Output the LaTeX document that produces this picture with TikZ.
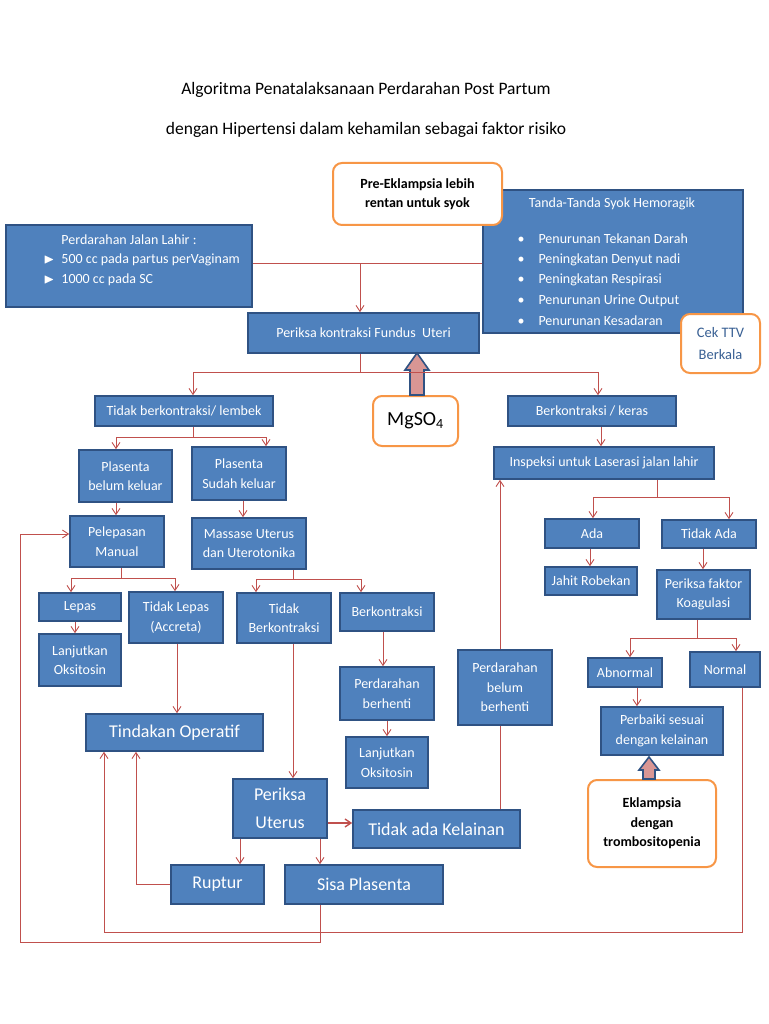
\documentclass[tikz,border=0pt]{standalone}
\usepackage{amssymb}
\usepackage{fontspec}
\setmainfont{Carlito}
\usetikzlibrary{arrows.meta,calc}
\definecolor{bfill}{HTML}{4F81BD}
\definecolor{bdraw}{HTML}{2F5283}
\definecolor{rl}{HTML}{C0504D}
\definecolor{org}{HTML}{F79646}
\definecolor{thk}{HTML}{D99694}
\newcommand\mybox[7][]{\node[box,#1,minimum width={(#5-#3)*1pt},minimum height={(#6-#4)*1pt}] (#2) at ({(#3+#5)/2},{(#4+#6)/2}) {#7};}
\begin{document}
\begin{tikzpicture}[x=1pt,y=-1pt,
 sm/.style={font=\fontsize{14}{19.5}\selectfont},
 lg/.style={font=\fontsize{18}{28}\selectfont},
 box/.style={draw=bdraw,line width=1.6pt,fill=bfill,text=white,align=center,inner sep=1pt,sm},
 obox/.style={draw=org,line width=2pt,fill=white,text=black,rounded corners=9pt,align=center,sm},
 ln/.style={draw=rl,line width=0.9pt},
 ar/.style={ln,-{Straight Barb[length=6pt,width=8pt]}},
 thick arrow/.style={fill=thk,draw=bdraw,line width=1.6pt}]
\useasboundingbox (0,0) rectangle (768,1024);
\node[font=\fontsize{17.5}{20}\selectfont] (t1) at (366,90) {Algoritma Penatalaksanaan Perdarahan Post Partum};
\node[font=\fontsize{17.5}{20}\selectfont] (t2) at (366,130) {dengan Hipertensi dalam kehamilan sebagai faktor risiko};
% boxes
\mybox{pjl}{6}{225}{252}{307}{}
\node[text=white,sm] (pjlt) at (129,240) {Perdarahan Jalan Lahir :};
\node[text=white,sm,anchor=west] (pjl1) at (40,260) {$\blacktriangleright$\hspace{7pt}500 cc pada partus perVaginam};
\node[text=white,sm,anchor=west] (pjl2) at (40,280) {$\blacktriangleright$\hspace{7pt}1000 cc pada SC};
\mybox{tanda}{483}{190}{743}{333}{}
\node[text=white,sm] (tandat) at (612,204) {Tanda-Tanda Syok Hemoragik};
\foreach \i/\t in {0/Penurunan Tekanan Darah,1/Peningkatan Denyut nadi,2/Peningkatan Respirasi,3/Penurunan Urine Output,4/Penurunan Kesadaran}{
 \node[text=white,sm,anchor=west] (tb\i) at (514,{239+20.5*\i}) {\textbullet\hspace{14pt}\t};}
\node[obox,minimum width=169pt,minimum height=62pt] (pre) at (417.5,194) {\textbf{Pre-Eklampsia lebih}\\\textbf{rentan untuk syok}};
\node[obox,minimum width=79pt,minimum height=59pt,text=bdraw!70!bfill,font=\fontsize{14.5}{22}\selectfont] (cek) at (720.5,343.5) {Cek TTV\\Berkala};
\mybox{pk}{248}{313}{479}{353}{Periksa kontraksi Fundus\ \ Uteri}
\mybox{tbk}{95}{396}{273}{426}{Tidak berkontraksi/ lembek}
\mybox{bk}{508}{396}{676}{426}{Berkontraksi / keras}
\mybox{pbk}{79}{450}{172}{502}{Plasenta\\belum keluar}
\mybox{psk}{192}{447}{286}{500}{Plasenta\\Sudah keluar}
\mybox{ins}{494}{447}{714}{479}{Inspeksi untuk Laserasi jalan lahir}
\mybox{pm}{70}{516}{164}{567}{Pelepasan\\Manual}
\mybox{mu}{192}{518}{306}{569}{Massase Uterus\\dan Uterotonika}
\mybox{ada}{545}{519}{639}{548}{Ada}
\mybox{tada}{662}{520}{756}{548}{Tidak Ada}
\mybox{jr}{545}{567}{637}{595}{Jahit Robekan}
\mybox{pfk}{657}{570}{750}{619}{Periksa faktor\\Koagulasi}
\mybox{lep}{39}{593}{121}{621}{Lepas}
\mybox{tl}{129}{592}{223}{643}{Tidak Lepas\\(Accreta)}
\mybox{tbk2}{237}{593}{331}{643}{Tidak\\Berkontraksi}
\mybox{bk2}{340}{593}{434}{631}{Berkontraksi}
\mybox{lo1}{39}{634}{121}{686}{Lanjutkan\\Oksitosin}
\mybox{pbb}{458}{650}{552}{725}{Perdarahan\\belum\\berhenti}
\mybox{abn}{588}{658}{662}{687}{Abnormal}
\mybox{nor}{690}{652}{760}{687}{Normal}
\mybox{pb}{340}{667}{434}{720}{Perdarahan\\berhenti}
\mybox[lg]{to}{86}{714}{263}{751}{Tindakan Operatif}
\mybox{pbs}{601}{707}{723}{755}{Perbaiki sesuai\\dengan kelainan}
\mybox{lo2}{346}{737}{428}{788}{Lanjutkan\\Oksitosin}
\node[obox,minimum width=128pt,minimum height=87pt] (ekl) at (652,823.5) {\textbf{Eklampsia}\\\textbf{dengan}\\\textbf{trombositopenia}};
\mybox[lg]{pu}{233}{779}{327}{838}{Periksa\\Uterus}
\mybox[lg]{tak}{353}{810}{520}{848}{Tidak ada Kelainan}
\mybox[lg]{rup}{171}{865}{264}{904}{Ruptur}
\mybox[lg]{sp}{285}{865}{443}{904}{Sisa Plasenta}
\node[obox,minimum width=85pt,minimum height=50pt,font=\fontsize{20}{22}\selectfont] (mg) at (415.5,421) {MgSO\textsubscript{4}};
% thick arrows
\draw[thick arrow] (mg.north -| 410,0) -- (410,370) -- (405,370) -- (417,353) -- (429,370) -- (424,370) -- (mg.north -| 424,0) -- cycle;
\draw[thick arrow] (ekl.north -| 643,0) -- (643,770) -- (639,770) -- (649,757) -- (659,770) -- (655,770) -- (ekl.north -| 655,0) -- cycle;
% connectors
\draw[ln] (pjl.east |- 0,263) -- (tanda.west |- 0,263);
\draw[ar] (360,263) -- (pk.north -| 360,0);
\draw[ln] (pk.south -| 360,0) -- (360,372);
\draw[ln] (193,372) -- (598,372);
\draw[ar] (193,372) -- (tbk.north -| 193,0);
\draw[ar] (598,372) -- (bk.north -| 598,0);
\draw[ar] (bk.south -| 601,0) -- (ins.north -| 601,0);
\draw[ln] (tbk.south -| 193,0) -- (193,437);
\draw[ln] (116,437) -- (266,437);
\draw[ar] (116,437) -- (pbk.north -| 116,0);
\draw[ar] (266,437) -- (psk.north -| 266,0);
\draw[ar] (pbk.south -| 116,0) -- (pm.north -| 116,0);
\draw[ar] (psk.south -| 243,0) -- (mu.north -| 243,0);
\draw[ln] (ins.south -| 657,0) -- (657,497);
\draw[ln] (593,497) -- (729,497);
\draw[ar] (593,497) -- (ada.north -| 593,0);
\draw[ar] (729,497) -- (tada.north -| 729,0);
\draw[ar] (ada.south -| 590,0) -- (jr.north -| 590,0);
\draw[ar] (tada.south -| 703,0) -- (pfk.north -| 703,0);
\draw[ln] (pm.south -| 121,0) -- (121,578);
\draw[ln] (71,578) -- (175,578);
\draw[ar] (71,578) -- (lep.north -| 71,0);
\draw[ar] (175,578) -- (tl.north -| 175,0);
\draw[ln] (mu.south -| 293,0) -- (293,579);
\draw[ln] (256,579) -- (361,579);
\draw[ar] (256,579) -- (tbk2.north -| 256,0);
\draw[ar] (361,579) -- (bk2.north -| 361,0);
\draw[ar] (lep.south -| 75,0) -- (lo1.north -| 75,0);
\draw[ar] (tl.south -| 177,0) -- (to.north -| 177,0);
\draw[ar] (tbk2.south -| 293,0) -- (pu.north -| 293,0);
\draw[ar] (bk2.south -| 383,0) -- (pb.north -| 383,0);
\draw[ar] (pb.south -| 387,0) -- (lo2.north -| 387,0);
\draw[ln] (pfk.south -| 697,0) -- (697,638);
\draw[ln] (630,638) -- (736,638);
\draw[ar] (630,638) -- (abn.north -| 630,0);
\draw[ar] (736,638) -- (nor.north -| 736,0);
\draw[ar] (abn.south -| 637,0) -- (pbs.north -| 637,0);
\draw[ar,line width=1.4pt] (pu.east |- 0,823) -- (tak.west |- 0,823);
\draw[ar] (pu.south -| 240,0) -- (rup.north -| 240,0);
\draw[ar] (pu.south -| 320,0) -- (sp.north -| 320,0);
\draw[ln] (tak.north -| 500,0) -- (pbb.south -| 500,0);
\draw[ar] (pbb.north -| 500,0) -- (ins.south -| 500,0);
\draw[ar] (rup.west |- 0,884) -- (136,884) -- (to.south -| 136,0);
\draw[ar] (nor.south -| 742,0) -- (742,932) -- (104,932) -- (to.south -| 104,0);
\draw[ar] (sp.south -| 320,0) -- (320,942) -- (20,942) -- (20,534) -- (pm.west |- 0,534);
\end{tikzpicture}
\end{document}
